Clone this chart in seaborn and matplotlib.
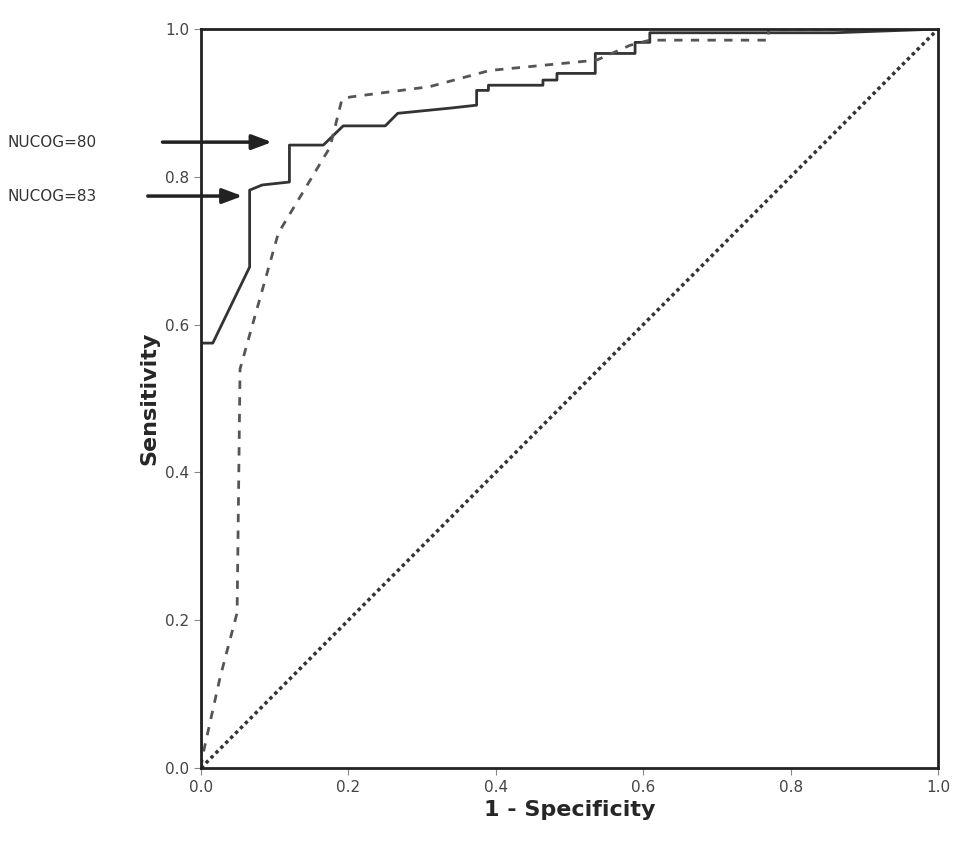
import matplotlib
matplotlib.use("Agg")
import matplotlib.pyplot as plt
import seaborn as sns
import pandas as pd

# solid curve (NUCOG)
solid_x = [0, 0, 0.016, 0.066, 0.066, 0.083, 0.12, 0.12, 0.166, 0.193, 0.25, 0.267, 0.338, 0.374,
           0.374, 0.39, 0.39, 0.464, 0.464, 0.483, 0.483, 0.535, 0.535, 0.589, 0.589, 0.609, 0.609, 0.86, 1.0]
solid_y = [0, 0.575, 0.575, 0.678, 0.782, 0.789, 0.793, 0.843, 0.843, 0.869, 0.869, 0.886, 0.893, 0.897,
           0.917, 0.917, 0.924, 0.924, 0.931, 0.931, 0.940, 0.940, 0.967, 0.967, 0.982, 0.982, 0.995, 0.995, 1.0]
# dashed curve
dash_x = [0, 0.003, 0.026, 0.049, 0.053, 0.105, 0.175, 0.191, 0.202, 0.31, 0.392, 0.537, 0.582, 0.609, 0.77, 0.77, 1.0]
dash_y = [0, 0.02, 0.123, 0.21, 0.54, 0.724, 0.84, 0.904, 0.908, 0.922, 0.944, 0.958, 0.978, 0.985, 0.985, 1.0, 1.0]
ref_x = [0, 1]
ref_y = [0, 1]

sns.set_style("ticks")
fig = plt.figure(figsize=(9.64, 8.55), dpi=100)
ax = fig.add_axes([0.2085, 0.1018, 0.7645, 0.8642])

sns.lineplot(x=solid_x, y=solid_y, ax=ax, color="#333333", lw=2, sort=False, estimator=None)
sns.lineplot(x=dash_x, y=dash_y, ax=ax, color="#555555", lw=2, sort=False, estimator=None, linestyle=(0, (3, 3)))
sns.lineplot(x=ref_x, y=ref_y, ax=ax, color="#333333", lw=2.5, sort=False, estimator=None, linestyle=(0, (1, 1)))

ax.set_xlim(0, 1)
ax.set_ylim(0, 1)
ticks = [0, 0.2, 0.4, 0.6, 0.8, 1.0]
ax.set_xticks(ticks)
ax.set_yticks(ticks)
ax.set_xticklabels([f"{t:.1f}" for t in ticks], fontsize=11, color="#444444")
ax.set_yticklabels([f"{t:.1f}" for t in ticks], fontsize=11, color="#444444")
ax.tick_params(length=5, color="#888888")
for s in ax.spines.values():
    s.set_linewidth(2)
    s.set_color("#222222")
ax.set_xlabel("1 - Specificity", fontsize=16, fontweight="bold", labelpad=4)
ax.set_ylabel("Sensitivity", fontsize=16, fontweight="bold", labelpad=4)

for label, tip, tail, ty in [("NUCOG=80", 0.10, -0.056, 0.847), ("NUCOG=83", 0.06, -0.076, 0.774)]:
    ax.annotate("", xy=(tip, ty), xytext=(tail, ty), annotation_clip=False,
                arrowprops=dict(arrowstyle="-|>,head_length=1.2,head_width=0.45", lw=2.5, color="#222222"))
    ax.text(-0.262, ty, label, fontsize=11, color="#333333", va="center", ha="left", clip_on=False)

fig.savefig("out.png", dpi=100)
